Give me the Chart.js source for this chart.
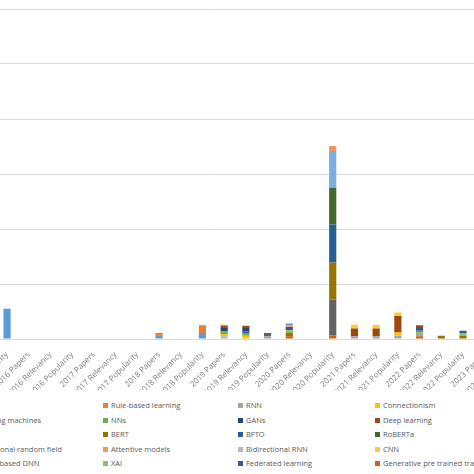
<!DOCTYPE html>
<html>
<head>
<meta charset="utf-8">
<script src="https://cdn.jsdelivr.net/npm/chart.js@4"></script>
<style>
  body { margin: 0; width: 474px; height: 474px; overflow: hidden; background: #fff; position: relative; font-family: "Open Sans", sans-serif; }
  #wrap { position: absolute; left: -155px; top: 0; width: 709px; height: 390px; }
  .lg { position: absolute; font-size: 7.5px; color: #595959; white-space: nowrap; line-height: 10px; }
  .lg i { display: inline-block; width: 5px; height: 5px; margin-right: 3px; vertical-align: 0px; }
</style>
</head>
<body>
<div id="wrap"><canvas id="chart"></canvas></div>
<div id="legend"></div>
<script>
const years = [2014, 2015, 2016, 2017, 2018, 2019, 2020, 2021, 2022, 2023];
const kinds = ["Papers", "Relevancy", "Popularity"];
const categories = [];
years.forEach(y => kinds.forEach(k => categories.push(y + " " + k)));

// index: 2015 Pop=5, 2018 P=12, 2019 P=15, 2020 P=18, 2021 P=21, 2022 P=24, 2023 P=27
const gpt        = [0,0,0,0,0,0, 0,0,0,0,0,0, 0,0,0, 0,0,0, 0.5,0,0.7, 0,0,0, 0.5,0,0, 0,0,0];
const rnn        = [0,0,0,0,0,0, 0,0,0,0,0,0, 0,0,0, 0,0,0.5, 0,0,0, 0.5,0.5,0.6, 0.4,0,0, 0,0,0];
const birnn      = [0,0,0,0,0,0, 0,0,0,0,0,0, 0,0,0, 0.5,0,0, 0,0,0, 0,0,0, 0,0,0, 0,0,0];
const lstm       = [0,0,0,0,0,0, 0,0,0,0,0,0, 0,0,0, 0,0,0.6, 0,0,6.5, 0,0,0, 0,0,0, 0,0,0];
const bert       = [0,0,0,0,0,0, 0,0,0,0,0,0, 0,0,0, 0,0,0, 0.7,0,6.7, 0,0,0, 0,0.6,0.6, 0,0,0];
const connect    = [0,0,0,0,0,0, 0,0,0,0,0,0, 0,0,0, 0.4,0.6,0, 0,0,0, 0,0,0.6, 0,0,0, 0,0,0];
const cnn        = [0,0,0,0,0,0, 0,0,0,0,0,0, 0,0,0, 0,0,0, 0,0,0, 0.7,0.7,0.6, 0,0,0, 0,0,0];
const nns        = [0,0,0,0,0,0, 0,0,0,0,0,0, 0,0,0, 0.5,0.5,0, 0,0,0, 0,0,0, 0,0,0, 0,0,0];
const xai        = [0,0,0,0,0,0, 0,0,0,0,0,0, 0,0,0, 0,0,0, 0.4,0,0, 0,0,0, 0.4,0,0.5, 0,0,0];
const federated  = [0,0,0,0,0,0, 0,0,0,0,0,0, 0,0,0, 0,0.3,0, 0,0,0, 0,0,0, 0.3,0,0.4, 0,0,0];
const bfto       = [0,0,0,0,0,0, 0,0,0,0,0,0, 0,0,0, 0,0,0, 0.6,0,6.9, 0,0,0, 0.4,0,0, 0,0,0];
const gans       = [0,0,0,0,0,0, 0,0,0,0,0,0, 0,0,0, 0.6,0.6,0, 0,0,0, 0,0,0, 0,0,0, 0,0,0];
const deep       = [0,0,0,0,0,0, 0,0,0,0,0,0, 0,0,0, 0.4,0.4,0, 0,0,0, 1.4,1.4,3.0, 0.5,0,0, 0,0,0];
const roberta    = [0,0,0,0,0,0, 0,0,0,0,0,0, 0,0,0, 0,0,0, 0,0,6.7, 0,0,0, 0,0,0, 0,0,0];
const tensor     = [0,0,0,0,0,0, 0,0,0,0,0,0, 0,0,0, 0,0,0, 0,0,6.7, 0,0,0, 0,0,0, 0,0,0];
const machines   = [0,0,0,0,0,5.5, 0,0,0,0,0,0, 0.7,0,1.1, 0,0,0, 0,0,0, 0,0,0, 0,0,0, 0,0,0];
const rule       = [0,0,0,0,0,0, 0,0,0,0,0,0, 0.4,0,1.4, 0,0,0, 0,0,0, 0,0,0, 0,0,0, 0,0,0];
const attentive  = [0,0,0,0,0,0, 0,0,0,0,0,0, 0,0,0, 0.2,0,0, 0.3,0,0.9, 0,0,0, 0,0,0, 0,0,0];
const crf        = [0,0,0,0,0,0, 0,0,0,0,0,0, 0,0,0, 0,0,0, 0.3,0,0, 0,0,0, 0,0,0, 0,0,0];
const svm        = [0,0,0,0,0,0, 0,0,0,0,0,0, 0,0,0, 0,0,0, 0,0,0, 0,0,0, 0,0,0, 0,0,0];

// legend order (row by row, 4 columns)
const legendNames = [
  "SVM", "Rule-based learning", "RNN", "Connectionism",
  "Learning machines", "NNs", "GANs", "Deep learning",
  "LSTM", "BERT", "BFTO", "RoBERTa",
  "Conditional random field", "Attentive models", "Bidirectional RNN", "CNN",
  "Vector based DNN", "XAI", "Federated learning", "Generative pre trained transformer"
];
const legendColors = [
  "#4472C4", "#ED7D31", "#A5A5A5", "#FFC000",
  "#5B9BD5", "#70AD47", "#264478", "#9E480E",
  "#636363", "#997300", "#255E91", "#43682B",
  "#698ED0", "#F1975A", "#B7B7B7", "#FFCD33",
  "#7CAFDD", "#8CC168", "#335AA1", "#D26012"
];
const seriesData = {
  "SVM": svm, "Rule-based learning": rule, "RNN": rnn, "Connectionism": connect,
  "Learning machines": machines, "NNs": nns, "GANs": gans, "Deep learning": deep,
  "LSTM": lstm, "BERT": bert, "BFTO": bfto, "RoBERTa": roberta,
  "Conditional random field": crf, "Attentive models": attentive, "Bidirectional RNN": birnn, "CNN": cnn,
  "Vector based DNN": tensor, "XAI": xai, "Federated learning": federated, "Generative pre trained transformer": gpt
};
// stacking order, bottom first
const stackOrder = ["Generative pre trained transformer", "RNN", "Bidirectional RNN", "LSTM", "BERT",
  "Connectionism", "NNs", "XAI", "Federated learning", "BFTO", "GANs", "Deep learning", "CNN",
  "RoBERTa", "Vector based DNN", "Learning machines", "Rule-based learning", "Attentive models",
  "Conditional random field", "SVM"];

const datasets = stackOrder.map(name => ({
  label: name,
  data: seriesData[name],
  backgroundColor: legendColors[legendNames.indexOf(name)],
  barPercentage: 0.33,
  categoryPercentage: 1
}));

new Chart(document.getElementById("chart"), {
  type: "bar",
  data: { labels: categories, datasets: datasets },
  options: {
    responsive: true,
    maintainAspectRatio: false,
    animation: false,
    layout: { padding: { top: 9, right: 15 } },
    plugins: { legend: { display: false }, tooltip: { enabled: false } },
    scales: {
      x: {
        stacked: true,
        grid: { display: false },
        border: { color: "#d9d9d9" },
        afterFit: s => { s.height = 51; },
        ticks: { color: "#7f7f7f", font: { size: 8, family: "Open Sans" }, minRotation: 45, maxRotation: 45, autoSkip: false }
      },
      y: {
        stacked: true,
        min: 0, max: 60,
        afterFit: s => { s.width = 42.6; },
        grid: { color: "#d9d9d9" },
        border: { display: false },
        ticks: { stepSize: 10, color: "#595959", font: { size: 7.5 } }
      }
    }
  }
});

const legendEl = document.getElementById("legend");
const colX = [-33, 103, 238, 375];
const rowY = [400, 415, 429, 444, 458];
legendNames.forEach((name, i) => {
  const d = document.createElement("div");
  d.className = "lg";
  d.style.left = colX[i % 4] + "px";
  d.style.top = rowY[Math.floor(i / 4)] + "px";
  d.innerHTML = '<i style="background:' + legendColors[i] + '"></i>' + name;
  legendEl.appendChild(d);
});
</script>
</body>
</html>
